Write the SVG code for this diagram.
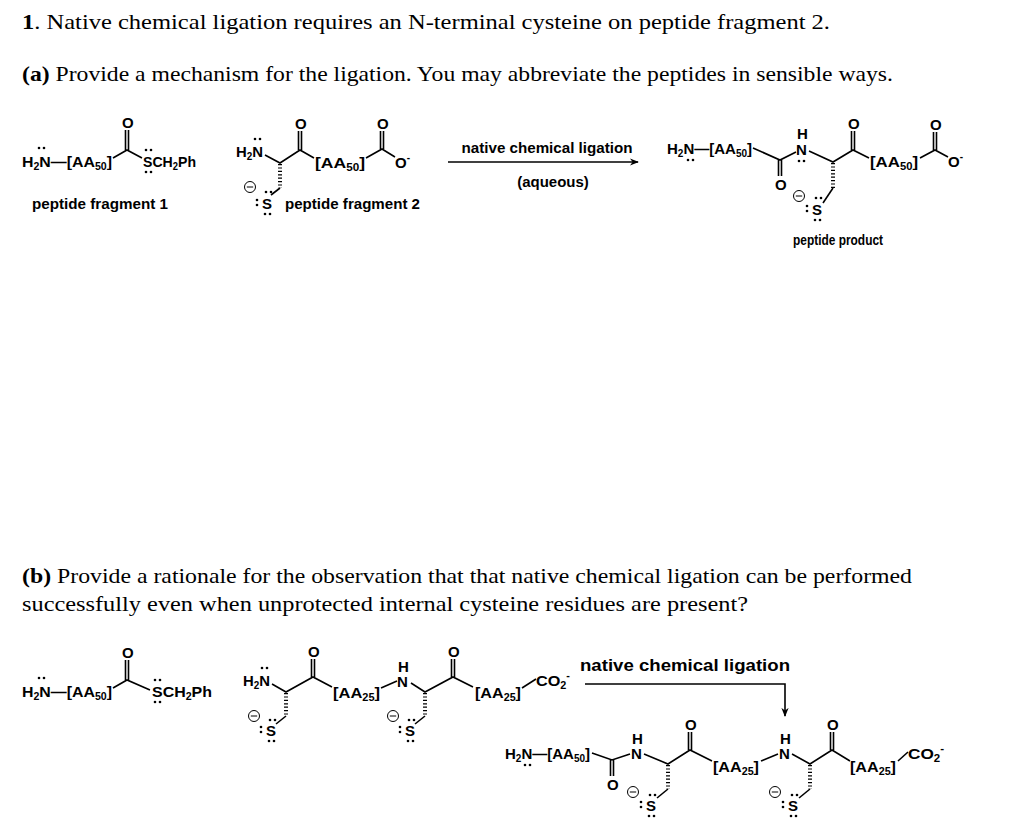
<svg xmlns="http://www.w3.org/2000/svg" width="1024" height="838" viewBox="0 0 1024 838">
<defs>
<style>
.q{font-family:"Liberation Serif",serif;font-size:22px;fill:#000}
.c{font-family:"Liberation Sans",Arial,sans-serif;font-size:15px;font-weight:bold;fill:#000}
.s{font-size:10px}
.b{stroke:#000;stroke-width:1.6;fill:none}
.h{stroke:#000;stroke-width:4;stroke-dasharray:1.2 2.2;fill:none}
.d{fill:#000}
.m{fill:none;stroke:#000;stroke-width:1}
</style>
<marker id="ar" viewBox="0 0 10 10" refX="9" refY="5" markerWidth="9" markerHeight="9" orient="auto" markerUnits="userSpaceOnUse"><path d="M0,1 L10,5 L0,9 L3,5 Z" fill="#000"/></marker>
<g id="minus"><circle r="5.5" class="m"/><line x1="-3.2" y1="0" x2="3.2" y2="0" class="m"/></g>
</defs>
<rect width="1024" height="838" fill="#fff"/>
<text class="q" x="22" y="29" textLength="808" lengthAdjust="spacingAndGlyphs"><tspan font-weight="bold">1</tspan>. Native chemical ligation requires an N-terminal cysteine on peptide fragment 2.</text>
<text class="q" x="22" y="81" textLength="871" lengthAdjust="spacingAndGlyphs"><tspan font-weight="bold">(a)</tspan> Provide a mechanism for the ligation. You may abbreviate the peptides in sensible ways.</text>
<text class="q" x="22" y="583" textLength="890" lengthAdjust="spacingAndGlyphs"><tspan font-weight="bold">(b)</tspan> Provide a rationale for the observation that that native chemical ligation can be performed</text>
<text class="q" x="22" y="611" textLength="726" lengthAdjust="spacingAndGlyphs">successfully even when unprotected internal cysteine residues are present?</text>

<g id="frag1">
<text class="c" x="22" y="167" textLength="90" lengthAdjust="spacingAndGlyphs">H<tspan class="s" dy="3">2</tspan><tspan dy="-3">N—[AA</tspan><tspan class="s" dy="3">50</tspan><tspan dy="-3">]</tspan></text>
<circle class="d" cx="39" cy="148" r="1.3"/><circle class="d" cx="44" cy="148" r="1.3"/>
<path class="b" d="M113,158 L127,150 L142,158"/><path class="b" d="M125.5,150 V130 M128.5,150 V130"/>
<text class="c" x="122" y="128">O</text>
<text class="c" x="143" y="167" textLength="53" lengthAdjust="spacingAndGlyphs">SCH<tspan class="s" dy="3">2</tspan><tspan dy="-3">Ph</tspan></text>
<circle class="d" cx="146" cy="150" r="1.3"/><circle class="d" cx="151" cy="150" r="1.3"/><circle class="d" cx="146" cy="172" r="1.3"/><circle class="d" cx="151" cy="172" r="1.3"/>
<text class="c" x="32" y="209" textLength="136" lengthAdjust="spacingAndGlyphs">peptide fragment 1</text>
</g>

<g id="frag2">
<text class="c" x="236" y="157" textLength="27" lengthAdjust="spacingAndGlyphs">H<tspan class="s" dy="3">2</tspan><tspan dy="-3">N</tspan></text>
<circle class="d" cx="255" cy="139" r="1.3"/><circle class="d" cx="260" cy="139" r="1.3"/>
<path class="b" d="M265,155 L280,163 L300,150 L314,158"/><path class="b" d="M298.5,150 V131 M301.5,150 V131"/>
<text class="c" x="295" y="129">O</text>
<text class="c" x="315" y="168" textLength="50" lengthAdjust="spacingAndGlyphs">[AA<tspan class="s" dy="3">50</tspan><tspan dy="-3">]</tspan></text>
<path class="b" d="M366,158 L382,149 L395,157"/><path class="b" d="M380.5,149 V131 M383.5,149 V131"/>
<text class="c" x="377" y="129">O</text>
<text class="c" x="395" y="168">O<tspan class="s" dy="-7">-</tspan></text>
<line class="h" x1="280" y1="164" x2="280" y2="188"/>
<path class="b" d="M280,188 L271,195"/>
<text class="c" x="262" y="209">S</text>
<circle class="d" cx="266" cy="192" r="1.3"/><circle class="d" cx="271" cy="192" r="1.3"/><circle class="d" cx="257" cy="200" r="1.3"/><circle class="d" cx="257" cy="205" r="1.3"/><circle class="d" cx="265" cy="214" r="1.3"/><circle class="d" cx="270" cy="214" r="1.3"/>
<use href="#minus" x="250" y="187"/>
<text class="c" x="285" y="209" textLength="135" lengthAdjust="spacingAndGlyphs">peptide fragment 2</text>
</g>

<g id="connectors">
<line class="b" x1="448" y1="162" x2="638" y2="162" marker-end="url(#ar)"/>
<path class="b" d="M585,684 H785 V716" marker-end="url(#ar)"/>
</g>
<text class="c" x="547" y="153" text-anchor="middle" textLength="171" lengthAdjust="spacingAndGlyphs">native chemical ligation</text>
<text class="c" x="553" y="187" text-anchor="middle">(aqueous)</text>

<g id="product">
<text class="c" x="667" y="154" textLength="85" lengthAdjust="spacingAndGlyphs">H<tspan class="s" dy="3">2</tspan><tspan dy="-3">N—[AA</tspan><tspan class="s" dy="3">50</tspan><tspan dy="-3">]</tspan></text>
<circle class="d" cx="688" cy="160" r="1.3"/><circle class="d" cx="693" cy="160" r="1.3"/>
<path class="b" d="M753,148 L780,160 L796,152"/><path class="b" d="M778.5,160 V176 M781.5,160 V176"/>
<text class="c" x="775" y="190">O</text>
<text class="c" x="796" y="155">N</text><text class="c" x="797" y="139">H</text>
<circle class="d" cx="799" cy="161" r="1.3"/><circle class="d" cx="804" cy="161" r="1.3"/>
<path class="b" d="M809,151 L833,162 L853,150 L869,158"/><path class="b" d="M851.5,150 V131 M854.5,150 V131"/>
<text class="c" x="848" y="129">O</text>
<text class="c" x="870" y="167" textLength="48" lengthAdjust="spacingAndGlyphs">[AA<tspan class="s" dy="3">50</tspan><tspan dy="-3">]</tspan></text>
<path class="b" d="M920,158 L935,150 L948,157"/><path class="b" d="M933.5,150 V132 M936.5,150 V132"/>
<text class="c" x="930" y="130">O</text>
<text class="c" x="948" y="167">O<tspan class="s" dy="-7">-</tspan></text>
<line class="h" x1="833" y1="163" x2="833" y2="188"/>
<path class="b" d="M833,188 L823,203"/>
<text class="c" x="812" y="215">S</text>
<circle class="d" cx="816" cy="198" r="1.3"/><circle class="d" cx="821" cy="198" r="1.3"/><circle class="d" cx="807" cy="206" r="1.3"/><circle class="d" cx="807" cy="211" r="1.3"/><circle class="d" cx="815" cy="220" r="1.3"/><circle class="d" cx="820" cy="220" r="1.3"/>
<use href="#minus" x="799" y="196"/>
<text class="c" x="793" y="245" textLength="90" lengthAdjust="spacingAndGlyphs">peptide product</text>
</g>

<g id="frag1b">
<text class="c" x="22" y="697" textLength="90" lengthAdjust="spacingAndGlyphs">H<tspan class="s" dy="3">2</tspan><tspan dy="-3">N—[AA</tspan><tspan class="s" dy="3">50</tspan><tspan dy="-3">]</tspan></text>
<circle class="d" cx="39" cy="678" r="1.3"/><circle class="d" cx="44" cy="678" r="1.3"/>
<path class="b" d="M113,688 L127,680 L150,690"/><path class="b" d="M125.5,680 V660 M128.5,680 V660"/>
<text class="c" x="122" y="658">O</text>
<text class="c" x="152" y="697" textLength="60" lengthAdjust="spacingAndGlyphs">SCH<tspan class="s" dy="3">2</tspan><tspan dy="-3">Ph</tspan></text>
<circle class="d" cx="155" cy="680" r="1.3"/><circle class="d" cx="160" cy="680" r="1.3"/><circle class="d" cx="155" cy="702" r="1.3"/><circle class="d" cx="160" cy="702" r="1.3"/>
</g>

<g id="frag2b">
<text class="c" x="243" y="686" textLength="27" lengthAdjust="spacingAndGlyphs">H<tspan class="s" dy="3">2</tspan><tspan dy="-3">N</tspan></text>
<circle class="d" cx="262" cy="668" r="1.3"/><circle class="d" cx="267" cy="668" r="1.3"/>
<path class="b" d="M272,684 L286,692 L313,677 L332,687"/><path class="b" d="M311.5,677 V659 M314.5,677 V659"/>
<text class="c" x="308" y="657">O</text>
<text class="c" x="333" y="698" textLength="47" lengthAdjust="spacingAndGlyphs">[AA<tspan class="s" dy="3">25</tspan><tspan dy="-3">]</tspan></text>
<path class="b" d="M381,688 L397,681"/>
<text class="c" x="397" y="687">N</text><text class="c" x="398" y="672">H</text>
<path class="b" d="M411,683 L425,692 L453,677 L473,687"/><path class="b" d="M451.5,677 V659 M454.5,677 V659"/>
<text class="c" x="448" y="657">O</text>
<text class="c" x="475" y="698" textLength="46" lengthAdjust="spacingAndGlyphs">[AA<tspan class="s" dy="3">25</tspan><tspan dy="-3">]</tspan></text>
<path class="b" d="M522,688 L536,679"/>
<text class="c" x="536" y="686" textLength="34" lengthAdjust="spacingAndGlyphs">CO<tspan class="s" dy="3">2</tspan><tspan class="s" dy="-10">-</tspan></text>
<line class="h" x1="286" y1="693" x2="286" y2="716"/><path class="b" d="M286,716 L276,724"/>
<text class="c" x="266" y="736">S</text>
<circle class="d" cx="270" cy="720" r="1.3"/><circle class="d" cx="275" cy="720" r="1.3"/><circle class="d" cx="261" cy="727" r="1.3"/><circle class="d" cx="261" cy="732" r="1.3"/><circle class="d" cx="269" cy="741" r="1.3"/><circle class="d" cx="274" cy="741" r="1.3"/>
<use href="#minus" x="254" y="716"/>
<line class="h" x1="425" y1="693" x2="425" y2="716"/><path class="b" d="M425,716 L415,724"/>
<text class="c" x="405" y="736">S</text>
<circle class="d" cx="409" cy="720" r="1.3"/><circle class="d" cx="414" cy="720" r="1.3"/><circle class="d" cx="400" cy="727" r="1.3"/><circle class="d" cx="400" cy="732" r="1.3"/><circle class="d" cx="408" cy="741" r="1.3"/><circle class="d" cx="413" cy="741" r="1.3"/>
<use href="#minus" x="393" y="716"/>
</g>
<text class="c" x="580" y="671" style="font-size:17px" textLength="210" lengthAdjust="spacingAndGlyphs">native chemical ligation</text>

<g id="productb">
<text class="c" x="505" y="759" textLength="85" lengthAdjust="spacingAndGlyphs">H<tspan class="s" dy="3">2</tspan><tspan dy="-3">N—[AA</tspan><tspan class="s" dy="3">50</tspan><tspan dy="-3">]</tspan></text>
<circle class="d" cx="525" cy="765" r="1.3"/><circle class="d" cx="530" cy="765" r="1.3"/>
<path class="b" d="M592,753 L612,760 L630,754"/><path class="b" d="M610.5,760 V776 M613.5,760 V776"/>
<text class="c" x="607" y="790">O</text>
<text class="c" x="631" y="759">N</text><text class="c" x="632" y="744">H</text>
<path class="b" d="M644,754 L668,764 L690,750 L712,761"/><path class="b" d="M688.5,750 V732 M691.5,750 V732"/>
<text class="c" x="685" y="730">O</text>
<text class="c" x="713" y="772" textLength="46" lengthAdjust="spacingAndGlyphs">[AA<tspan class="s" dy="3">25</tspan><tspan dy="-3">]</tspan></text>
<path class="b" d="M761,761 L778,754"/>
<text class="c" x="779" y="759">N</text><text class="c" x="780" y="744">H</text>
<path class="b" d="M792,754 L810,764 L832,750 L850,761"/><path class="b" d="M830.5,750 V732 M833.5,750 V732"/>
<text class="c" x="827" y="730">O</text>
<text class="c" x="850" y="772" textLength="46" lengthAdjust="spacingAndGlyphs">[AA<tspan class="s" dy="3">25</tspan><tspan dy="-3">]</tspan></text>
<path class="b" d="M898,761 L908,752"/>
<text class="c" x="908" y="759" textLength="36" lengthAdjust="spacingAndGlyphs">CO<tspan class="s" dy="3">2</tspan><tspan class="s" dy="-10">-</tspan></text>
<line class="h" x1="668" y1="765" x2="668" y2="789"/><path class="b" d="M668,789 L657,798"/>
<text class="c" x="646" y="811">S</text>
<circle class="d" cx="650" cy="795" r="1.3"/><circle class="d" cx="655" cy="795" r="1.3"/><circle class="d" cx="641" cy="802" r="1.3"/><circle class="d" cx="641" cy="807" r="1.3"/><circle class="d" cx="649" cy="816" r="1.3"/><circle class="d" cx="654" cy="816" r="1.3"/>
<use href="#minus" x="633" y="792"/>
<line class="h" x1="810" y1="765" x2="810" y2="789"/><path class="b" d="M810,789 L799,798"/>
<text class="c" x="788" y="811">S</text>
<circle class="d" cx="792" cy="795" r="1.3"/><circle class="d" cx="797" cy="795" r="1.3"/><circle class="d" cx="783" cy="802" r="1.3"/><circle class="d" cx="783" cy="807" r="1.3"/><circle class="d" cx="791" cy="816" r="1.3"/><circle class="d" cx="796" cy="816" r="1.3"/>
<use href="#minus" x="775" y="792"/>
</g>
</svg>
